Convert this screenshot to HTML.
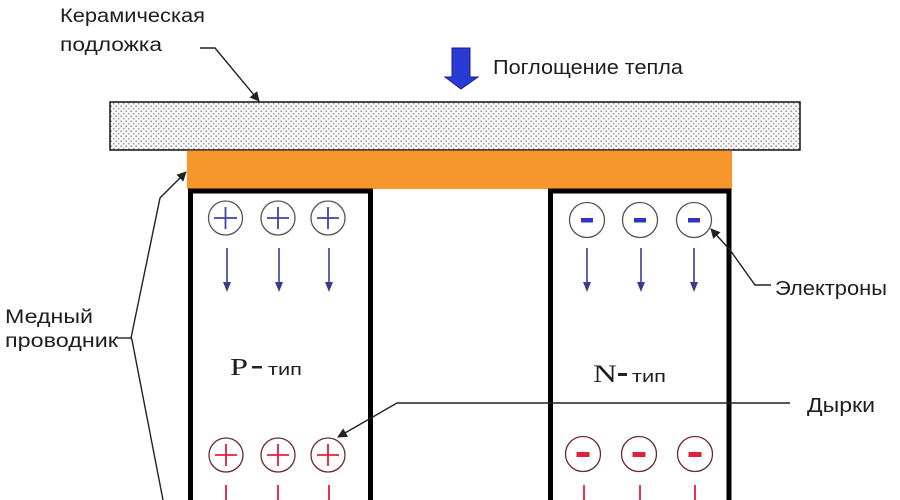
<!DOCTYPE html>
<html><head><meta charset="utf-8"><style>
html,body{margin:0;padding:0;background:#fff;width:900px;height:500px;overflow:hidden;}
svg{display:block;}
.s{font-family:"Liberation Sans","DejaVu Sans",sans-serif;fill:#1e1e1e;}
.r{font-family:"Liberation Serif","DejaVu Serif",serif;fill:#1e1e1e;}
</style></head><body>
<svg width="900" height="500" viewBox="0 0 900 500" xmlns="http://www.w3.org/2000/svg">
<defs>
<pattern id="dots" width="5" height="5" patternUnits="userSpaceOnUse">
<rect width="5" height="5" fill="#f7f7f7"/>
<circle cx="1.2" cy="1.2" r="0.8" fill="#8c8c8c"/>
<circle cx="3.7" cy="3.7" r="0.8" fill="#9c9c9c"/>
</pattern>
<marker id="ah" viewBox="0 0 10 10" refX="9" refY="5" markerWidth="7" markerHeight="7" orient="auto-start-reverse">
<path d="M0,0 L10,5 L0,10 z" fill="#222"/>
</marker>
</defs>

<!-- labels -->
<text class="s" x="60" y="22" font-size="19" textLength="145" lengthAdjust="spacingAndGlyphs">Керамическая</text>
<text class="s" x="60" y="51" font-size="19" textLength="102" lengthAdjust="spacingAndGlyphs">подложка</text>
<text class="s" x="493" y="74" font-size="20" textLength="190" lengthAdjust="spacingAndGlyphs">Поглощение тепла</text>
<text class="s" x="5" y="323" font-size="19" textLength="88" lengthAdjust="spacingAndGlyphs">Медный</text>
<text class="s" x="5" y="347" font-size="19" textLength="113" lengthAdjust="spacingAndGlyphs">проводник</text>
<text class="s" x="775" y="295" font-size="20" textLength="112" lengthAdjust="spacingAndGlyphs">Электроны</text>
<text class="s" x="807" y="412" font-size="20" textLength="68" lengthAdjust="spacingAndGlyphs">Дырки</text>

<!-- heat arrow -->
<path d="M452,48 L470,48 L470,77 L478,77 L461,89 L445,77 L452,77 Z" fill="#2a3ad4" stroke="#1a2080" stroke-width="1"/>

<!-- ceramic -->
<rect x="110" y="102" width="690" height="48" fill="url(#dots)" stroke="#111" stroke-width="1.5"/>
<!-- copper -->
<rect x="187" y="150.5" width="545" height="38.5" fill="#f7962d"/>

<!-- boxes -->
<path d="M190.5,500 L190.5,191 L370.5,191 L370.5,500" fill="none" stroke="#000" stroke-width="5"/>
<path d="M550.5,500 L550.5,191 L729,191 L729,500" fill="none" stroke="#000" stroke-width="5"/>

<!-- top circles -->
<g stroke="#555" stroke-width="1.3" fill="none">
<circle cx="225.5" cy="218" r="17"/>
<circle cx="278" cy="218" r="17"/>
<circle cx="328" cy="218" r="17"/>
<circle cx="587" cy="220" r="17.5"/>
<circle cx="640" cy="220" r="17.5"/>
<circle cx="694" cy="220" r="17.5"/>
</g>
<g stroke="#4343a8" stroke-width="1.8">
<line x1="214" y1="218" x2="237" y2="218"/><line x1="225.5" y1="207" x2="225.5" y2="229"/>
<line x1="267" y1="218" x2="289" y2="218"/><line x1="278" y1="207" x2="278" y2="229"/>
<line x1="317" y1="218" x2="339" y2="218"/><line x1="328" y1="207" x2="328" y2="229"/>
</g>
<g fill="#3434c4">
<rect x="581" y="218" width="12" height="4.5"/>
<rect x="634" y="218" width="12" height="4.5"/>
<rect x="688" y="218" width="12" height="4.5"/>
</g>

<!-- small blue arrows -->
<g stroke="#3b3b90" stroke-width="1.6">
<line x1="227" y1="248" x2="227" y2="284"/>
<line x1="279" y1="248" x2="279" y2="284"/>
<line x1="329" y1="248" x2="329" y2="284"/>
<line x1="587" y1="248" x2="587" y2="284"/>
<line x1="641" y1="248" x2="641" y2="284"/>
<line x1="694" y1="248" x2="694" y2="284"/>
</g>
<g fill="#3b3b90">
<path d="M223,282 L231,282 L227,292 Z"/>
<path d="M275,282 L283,282 L279,292 Z"/>
<path d="M325,282 L333,282 L329,292 Z"/>
<path d="M583,282 L591,282 L587,292 Z"/>
<path d="M637,282 L645,282 L641,292 Z"/>
<path d="M690,282 L698,282 L694,292 Z"/>
</g>

<!-- type labels -->
<text class="r" x="230" y="375" font-size="24" textLength="18" lengthAdjust="spacingAndGlyphs">P</text>
<rect x="252" y="366" width="10" height="2.5" fill="#222"/>
<text class="s" x="268" y="375" font-size="17" textLength="34" lengthAdjust="spacingAndGlyphs">тип</text>
<text class="r" x="593" y="382" font-size="25" textLength="24" lengthAdjust="spacingAndGlyphs">N</text>
<rect x="618" y="373" width="9" height="3" fill="#222"/>
<text class="s" x="632" y="382" font-size="17" textLength="34" lengthAdjust="spacingAndGlyphs">тип</text>

<!-- bottom circles -->
<g stroke="#6a2a2a" stroke-width="1.3" fill="none">
<circle cx="226" cy="455" r="17"/>
<circle cx="278" cy="455" r="17"/>
<circle cx="328" cy="455" r="17"/>
<circle cx="583" cy="454" r="17.5"/>
<circle cx="639" cy="454" r="17.5"/>
<circle cx="695" cy="454" r="17.5"/>
</g>
<g stroke="#e0203a" stroke-width="1.8">
<line x1="215" y1="455" x2="237" y2="455"/><line x1="226" y1="444" x2="226" y2="466"/>
<line x1="267" y1="455" x2="289" y2="455"/><line x1="278" y1="444" x2="278" y2="466"/>
<line x1="317" y1="455" x2="339" y2="455"/><line x1="328" y1="444" x2="328" y2="466"/>
<line x1="226" y1="485" x2="226" y2="500"/>
<line x1="278" y1="485" x2="278" y2="500"/>
<line x1="329" y1="485" x2="329" y2="500"/>
<line x1="584" y1="485" x2="584" y2="500"/>
<line x1="640" y1="485" x2="640" y2="500"/>
<line x1="695" y1="485" x2="695" y2="500"/>
</g>
<g fill="#e0203a">
<rect x="576.5" y="452" width="13" height="5"/>
<rect x="632.5" y="452" width="13" height="5"/>
<rect x="688.5" y="452" width="13" height="5"/>
</g>

<!-- leaders -->
<g stroke="#222" stroke-width="1.4" fill="none">
<path d="M200,48 L215,48 L259,101" marker-end="url(#ah)"/>
<path d="M163,500 L132,340 L131,338 L160,198 L186,172" marker-end="url(#ah)"/>
<line x1="117" y1="338" x2="132" y2="338"/>
<path d="M771,285 L755,285 L730,250 L711,229" marker-end="url(#ah)"/>
<path d="M790,403 L397,403 L338,437" marker-end="url(#ah)"/>
</g>
</svg>
</body></html>
